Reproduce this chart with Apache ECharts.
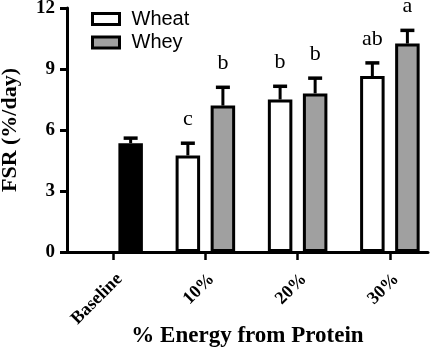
<!DOCTYPE html>
<html>
<head>
<meta charset="utf-8">
<script src="https://cdn.jsdelivr.net/npm/echarts@6/dist/echarts.min.js"></script>
<style>html,body{margin:0;padding:0;background:#fff}#c{width:440px;height:358px}</style>
</head>
<body>
<div id="c"></div>
<script>
var categories = ['Baseline', '10%', '20%', '30%'];
var seriesNames = ['Wheat', 'Whey'];
var baselineValue = 5.35;
var baselineErr = 5.6;
var baselineLetter = '';
var wheatValues = [null, 4.75, 7.5, 8.65];
var wheatErrTop = [null, 5.35, 8.15, 9.3];
var wheatLetters = ['', 'c', 'b', 'ab'];
var wheyValues = [null, 7.2, 7.8, 10.25];
var wheyErrTop = [null, 8.1, 8.55, 10.9];
var wheyLetters = ['', 'b', 'b', 'a'];
var yTicks = [0, 3, 6, 9, 12];

var BAR_W = 24.5, GAP = 0.43, BW = 3;
var serif = 'Liberation Serif';

var wheyData = wheyValues.map(function (v, i) {
  if (i === 0) return { value: baselineValue, itemStyle: { color: '#000' } };
  return v;
});
var errData = [];
errData.push([0, baselineValue, baselineErr, 1, baselineLetter]);
for (var i = 0; i < categories.length; i++) {
  if (wheatValues[i] != null) errData.push([i, wheatValues[i], wheatErrTop[i], 0, wheatLetters[i]]);
  if (wheyValues[i] != null) errData.push([i, wheyValues[i], wheyErrTop[i], 1, wheyLetters[i]]);
}

var chart = echarts.init(document.getElementById('c'), null, { renderer: 'canvas' });
chart.setOption({
  animation: false,
  backgroundColor: '#fff',
  legend: {
    data: seriesNames,
    orient: 'vertical',
    left: 86, top: 4,
    icon: 'rect',
    itemWidth: 27, itemHeight: 11, itemGap: 3.5,
    itemStyle: { borderWidth: 3, borderColor: '#000' },
    textStyle: { fontFamily: 'Liberation Sans', fontSize: 20, color: '#000', padding: [0, 0, 0, 7], lineHeight: 20 }
  },
  grid: [
    { left: 67, right: 4, top: 8, bottom: 106, containLabel: false, outerBoundsMode: 'none' },
    { left: 67, right: 12, top: 8, bottom: 106, containLabel: false, outerBoundsMode: 'none' }
  ],
  xAxis: [
    {
      type: 'category', gridIndex: 0, data: categories,
      axisLine: { show: false },
      axisTick: { show: true, alignWithLabel: true, length: 8, lineStyle: { color: '#000', width: 2.5 } },
      axisLabel: { rotate: 45, margin: 18, verticalAlign: 'top', color: '#000', fontFamily: serif, fontWeight: 'bold', fontSize: 18 }
    },
    {
      type: 'value', gridIndex: 1, min: 0, max: 1,
      axisLine: { show: true, onZero: false, lineStyle: { color: '#000', width: 3 } },
      axisTick: { show: false }, axisLabel: { show: false }, splitLine: { show: false },
      name: '% Energy from Protein', nameLocation: 'middle', nameGap: 73,
      nameTextStyle: { color: '#000', fontFamily: serif, fontWeight: 'bold', fontSize: 23 }
    }
  ],
  yAxis: [
    {
      type: 'value', gridIndex: 0, min: 0, max: 12, interval: 3,
      axisLine: { show: true, lineStyle: { color: '#000', width: 3 } },
      axisTick: { show: true, length: 7, lineStyle: { color: '#000', width: 3 } },
      axisLabel: { margin: 12, color: '#000', fontFamily: serif, fontWeight: 'bold', fontSize: 19,
        customValues: yTicks },
      splitLine: { show: false },
      name: 'FSR (%/day)', nameLocation: 'middle', nameGap: 46, nameRotate: 90,
      nameTextStyle: { color: '#000', fontFamily: serif, fontWeight: 'bold', fontSize: 22 }
    },
    { type: 'value', gridIndex: 1, show: false, min: 0, max: 1 }
  ],
  series: [
    {
      name: 'Wheat', type: 'bar', xAxisIndex: 0, yAxisIndex: 0,
      data: wheatValues, barWidth: BAR_W, barGap: (GAP * 100) + '%',
      itemStyle: { color: '#fff', borderColor: '#000', borderWidth: BW }
    },
    {
      name: 'Whey', type: 'bar', xAxisIndex: 0, yAxisIndex: 0,
      data: wheyData, barWidth: BAR_W, barGap: (GAP * 100) + '%',
      itemStyle: { color: '#a0a0a0', borderColor: '#000', borderWidth: BW }
    },
    {
      name: 'err', type: 'custom', xAxisIndex: 0, yAxisIndex: 0, z: 3,
      data: errData,
      renderItem: function (params, api) {
        var cat = api.value(0), v = api.value(1), e = api.value(2), slot = api.value(3);
        var letter = errData[params.dataIndex][4];
        var off = (BAR_W + BAR_W * GAP) / 2 * (slot === 0 ? -1 : 1);
        var pB = api.coord([cat, v]);
        var pE = api.coord([cat, e]);
        var x = pB[0] + off;
        var children = [
          { type: 'line', shape: { x1: x, y1: pB[1], x2: x, y2: pE[1] }, style: { stroke: '#000', lineWidth: 3 } },
          { type: 'line', shape: { x1: x - 7, y1: pE[1], x2: x + 7, y2: pE[1] }, style: { stroke: '#000', lineWidth: 3.5 } }
        ];
        if (letter) {
          children.push({ type: 'text', style: { text: letter, x: x, y: pE[1] - 13, align: 'center', verticalAlign: 'bottom',
            font: '22px "Liberation Serif"', fill: '#000' } });
        }
        return { type: 'group', children: children };
      }
    }
  ]
});
</script>
</body>
</html>
